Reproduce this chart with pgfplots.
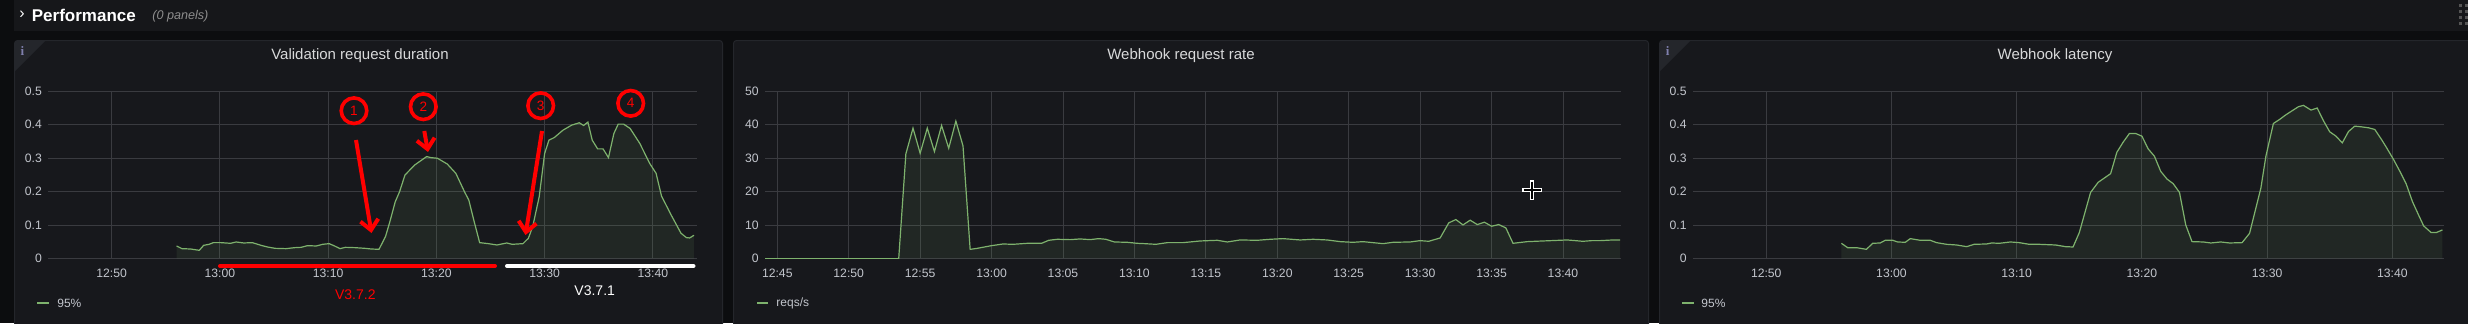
\documentclass[border=0pt]{standalone}
\usepackage{fontspec}
\setmainfont{Liberation Sans}
\newfontfamily\serifi{Liberation Serif}
\usepackage{pgfplots}
\pgfplotsset{compat=1.18}
\usepackage{pgfplotstable}
\usetikzlibrary{arrows.meta}

\definecolor{gfouter}{HTML}{0C0D0F}
\definecolor{gfhead}{HTML}{16171A}
\definecolor{gfpanel}{HTML}{17181C}
\definecolor{gfborder}{HTML}{24262B}
\definecolor{gfcorner}{HTML}{24262B}
\definecolor{gfgrid}{HTML}{3A3B40}
\definecolor{gftick}{HTML}{C2C5CC}
\definecolor{gftitle}{HTML}{D8D9DA}
\definecolor{gfgreen}{HTML}{7EB26D}
\definecolor{gfgrey}{HTML}{8E8E8E}
\definecolor{gfred}{HTML}{FF0000}

\pgfplotstableread{
x y
56.0 0.038
56.5 0.030
57.3 0.029
58.1 0.025
58.5 0.040
59.0 0.043
59.4 0.048
60.1 0.048
61.0 0.046
61.5 0.050
62.2 0.047
63.0 0.048
63.8 0.040
64.4 0.035
65.1 0.031
66.1 0.030
66.9 0.033
67.5 0.034
68.1 0.039
68.9 0.038
69.5 0.043
70.1 0.045
70.6 0.038
71.1 0.030
71.6 0.034
72.5 0.033
73.4 0.031
74.0 0.029
74.7 0.028
75.3 0.066
75.7 0.110
76.2 0.170
76.6 0.200
77.1 0.250
78.0 0.280
79.1 0.305
79.5 0.302
80.1 0.300
81.0 0.283
81.8 0.255
82.6 0.200
83.0 0.175
83.5 0.110
84.0 0.048
84.8 0.045
85.6 0.041
86.5 0.047
87.0 0.043
88.0 0.045
88.5 0.061
88.9 0.096
89.5 0.185
90.0 0.314
90.4 0.354
90.9 0.362
91.7 0.384
92.5 0.399
93.2 0.406
93.6 0.398
94.0 0.408
94.4 0.354
94.9 0.328
95.4 0.328
95.9 0.302
96.4 0.374
96.8 0.402
97.3 0.402
97.9 0.389
98.8 0.344
99.7 0.285
100.3 0.255
100.8 0.187
101.7 0.130
102.6 0.076
103.1 0.063
103.4 0.062
103.8 0.070
}\dataA

\pgfplotstableread{
x y
44.14 0
53.5 0
54.0 31.3
54.5 39.0
55.0 31.5
55.5 39.0
56.0 32.0
56.5 39.8
57.0 33.0
57.5 41.1
58.0 33.7
58.5 2.8
59.0 3.1
60.0 3.9
60.8 4.4
61.5 4.3
62.5 4.6
63.5 4.6
64.0 5.5
64.6 5.8
65.5 5.7
66.2 5.9
66.9 5.7
67.5 6.0
68.0 5.8
68.6 5.0
69.5 4.9
70.2 4.6
70.7 4.5
71.5 4.3
72.3 4.8
73.4 4.8
74.6 5.3
75.8 5.5
76.5 5.0
77.4 5.6
78.6 5.5
79.5 5.8
80.4 6.0
81.6 5.6
82.5 5.8
83.5 5.6
84.4 5.1
85.3 4.9
86.0 5.1
86.7 4.8
87.4 4.5
88.1 4.9
89.3 5.0
90.0 5.4
90.6 5.2
91.4 6.2
92.0 10.7
92.5 11.7
93.0 10.1
93.5 11.5
94.0 10.2
94.5 10.9
95.0 9.7
95.5 10.2
96.0 9.2
96.5 4.6
97.5 5.1
98.6 5.3
100.3 5.6
101.4 5.2
102.0 5.4
102.6 5.4
103.5 5.6
104.0 5.6
}\dataB

\pgfplotstableread{
x y
56.0 0.046
56.5 0.033
57.2 0.033
58.0 0.028
58.5 0.046
59.1 0.047
59.5 0.055
60.1 0.055
60.5 0.050
61.1 0.049
61.5 0.060
62.3 0.055
63.1 0.055
63.6 0.048
64.4 0.043
65.2 0.041
66.0 0.036
66.6 0.043
67.6 0.044
68.0 0.047
68.6 0.046
69.5 0.050
70.2 0.048
71.0 0.043
71.8 0.043
73.1 0.041
73.9 0.036
74.5 0.035
75.0 0.078
75.9 0.198
76.5 0.228
77.5 0.254
78.0 0.318
78.5 0.348
79.0 0.374
79.5 0.374
80.0 0.366
80.5 0.328
81.0 0.306
81.5 0.261
82.0 0.238
82.5 0.224
83.0 0.198
83.5 0.101
84.0 0.051
84.9 0.050
85.5 0.047
86.3 0.050
87.0 0.047
88.0 0.048
88.6 0.076
89.0 0.136
89.5 0.211
89.9 0.306
90.5 0.404
91.0 0.416
91.5 0.430
92.0 0.442
92.5 0.454
92.9 0.458
93.5 0.444
94.0 0.450
94.5 0.412
95.0 0.379
95.5 0.366
96.0 0.346
96.5 0.380
97.0 0.396
97.5 0.394
98.1 0.391
98.6 0.386
99.1 0.358
99.5 0.334
100.1 0.296
100.6 0.261
101.1 0.224
101.6 0.171
102.1 0.130
102.5 0.098
103.1 0.078
103.5 0.078
104.0 0.086
}\dataC

\pgfplotsset{
  gf/.style={
    scale only axis, anchor=south west,
    height=83.7pt,
    axis line style={draw=none},
    major tick length=0pt,
    grid=major,
    major grid style={gfgrid, line width=0.5pt},
    ymin=0,
    tick label style={font=\fontsize{6.1}{7}\selectfont, text=gftick},
    /pgf/number format/assume math mode=true,
    yticklabel style={anchor=east, inner sep=0pt, xshift=-3pt},
    xticklabel style={anchor=north, inner sep=0pt, yshift=-5pt},
  },
  gfsec/.style={
    ymax=0.5, ytick={0,0.1,0.2,0.3,0.4,0.5},
    yticklabels={0,0.1,0.2,0.3,0.4,0.5},
    xtick={50,60,70,80,90,100},
    xticklabels={12:50,13:00,13:10,13:20,13:30,13:40},
  },
}

\begin{document}
\begin{tikzpicture}
% ---------- frame ----------
\begin{scope}[x=0.5pt,y=-0.5pt]
\fill[gfouter] (0,0) rectangle (2468,323);
\fill[gfhead] (14,0) rectangle (2468,31);
\filldraw[fill=gfpanel, draw=gfborder, line width=0.5pt, rounded corners=1.5pt] (14.5,40.5) rectangle (722.5,340);
\filldraw[fill=gfpanel, draw=gfborder, line width=0.5pt, rounded corners=1.5pt] (733.5,40.5) rectangle (1648.5,340);
\filldraw[fill=gfpanel, draw=gfborder, line width=0.5pt, rounded corners=1.5pt] (1659.5,40.5) rectangle (2480,340);
% info corners
\fill[gfcorner] (15,41) -- (45,41) -- (15,71) -- cycle;
\fill[gfcorner] (1660,41) -- (1690,41) -- (1660,71) -- cycle;
\node[text=gfgrey!80!blue!90!white, font=\serifi\bfseries\fontsize{6.5}{7}\selectfont] at (22.5,51) {i};
\node[text=gfgrey!80!blue!90!white, font=\serifi\bfseries\fontsize{6.5}{7}\selectfont] at (1667.7,51) {i};
% header
\node[text=white, font=\fontsize{8}{9}\selectfont, anchor=center] at (22,14.5) {›};
\node[text=white, font=\bfseries\fontsize{8.5}{9}\selectfont, anchor=west, inner sep=0pt] at (31.5,15) {Performance};
\node[text=gfgrey, font=\itshape\fontsize{6.3}{7}\selectfont, anchor=west, inner sep=0pt] at (152,16) {(0 panels)};
\foreach \yy in {5.7,11.3,17.3,23} {
  \fill[gfgrey!60!black] (2459,\yy-1.5) rectangle (2462,\yy+1.5);
  \fill[gfgrey!60!black] (2465,\yy-1.5) rectangle (2468,\yy+1.5);
}
% titles
\node[text=gftitle, font=\fontsize{7.5}{8}\selectfont] at (360,56) {Validation request duration};
\node[text=gftitle, font=\fontsize{7.5}{8}\selectfont] at (1181,56) {Webhook request rate};
\node[text=gftitle, font=\fontsize{7.5}{8}\selectfont] at (2055,56) {Webhook latency};
% legends
\draw[gfgreen, line width=1pt] (37,303) -- (49,303);
\node[text=gftick, font=\fontsize{6}{7}\selectfont, anchor=west, inner sep=0pt] at (57,303) {95\%};
\draw[gfgreen, line width=1pt] (757,303) -- (768,303);
\node[text=gftick, font=\fontsize{6}{7}\selectfont, anchor=west, inner sep=0pt] at (776,303) {reqs/s};
\draw[gfgreen, line width=1pt] (1682,303) -- (1694,303);
\node[text=gftick, font=\fontsize{6}{7}\selectfont, anchor=west, inner sep=0pt] at (1701,303) {95\%};
\end{scope}

% ---------- panel 1 ----------
\begin{axis}[gf, gfsec, at={(24.15pt,-129.35pt)}, width=324.2pt, xmin=44.15, xmax=104.05]
\addplot[draw=none, fill=gfgreen, fill opacity=0.1] table[x=x,y=y] {\dataA} \closedcycle;
\addplot[gfgreen, line width=0.6pt] table[x=x,y=y] {\dataA};
\end{axis}

% ---------- panel 2 ----------
\begin{axis}[gf, at={(382.5pt,-129.35pt)}, width=428pt, xmin=44.14, xmax=104.06,
  ymax=50, ytick={0,10,20,30,40,50},
  xtick={45,50,55,60,65,70,75,80,85,90,95,100},
  xticklabels={12:45,12:50,12:55,13:00,13:05,13:10,13:15,13:20,13:25,13:30,13:35,13:40}]
\addplot[draw=none, fill=gfgreen, fill opacity=0.1] table[x=x,y=y] {\dataB} \closedcycle;
\addplot[gfgreen, line width=0.6pt] table[x=x,y=y] {\dataB};
\end{axis}

% ---------- panel 3 ----------
\begin{axis}[gf, gfsec, at={(846.5pt,-129.35pt)}, width=375.65pt, xmin=44.15, xmax=104.15]
\addplot[draw=none, fill=gfgreen, fill opacity=0.1] table[x=x,y=y] {\dataC} \closedcycle;
\addplot[gfgreen, line width=0.6pt] table[x=x,y=y] {\dataC};
\end{axis}

% ---------- annotations ----------
\begin{scope}[x=0.5pt,y=-0.5pt]
\foreach \cx/\cy/\n in {354/110.7/1, 423.3/106.7/2, 540.7/105.7/3, 630.7/103.3/4} {
  \draw[gfred, line width=1.8pt] (\cx,\cy) circle (6.4pt);
  \node[text=gfred, font=\fontsize{6.8}{7}\selectfont] at (\cx,\cy) {\n};
}
\draw[gfred, line width=2pt, -{Straight Barb[length=5pt,width=9pt,line width=2pt]}] (356,140) -- (371.5,233);
\draw[gfred, line width=2pt, -{Straight Barb[length=5pt,width=9pt,line width=2pt]}] (424.3,131) -- (428,152);
\draw[gfred, line width=2pt, -{Straight Barb[length=5pt,width=9pt,line width=2pt]}] (542,131) -- (525.5,235);
\draw[gfred, line width=2pt, line cap=round] (220,266) -- (495,266);
\draw[white, line width=2pt, line cap=round] (507,266) -- (693.5,266);
\node[text=gfred, font=\fontsize{7}{8}\selectfont] at (355.3,295) {V3.7.2};
\node[text=white, font=\fontsize{7}{8}\selectfont] at (594.7,291) {V3.7.1};
% cursor
\draw[white, line width=2.2pt] (1532,180) -- (1532,200) (1522,190) -- (1542,190);
\draw[black, line width=0.8pt] (1532,181.5) -- (1532,198.5) (1523.5,190) -- (1540.5,190);
\end{scope}

\pgfresetboundingbox
\useasboundingbox (0,0) rectangle (1234pt,-161.5pt);
\end{tikzpicture}
\end{document}
